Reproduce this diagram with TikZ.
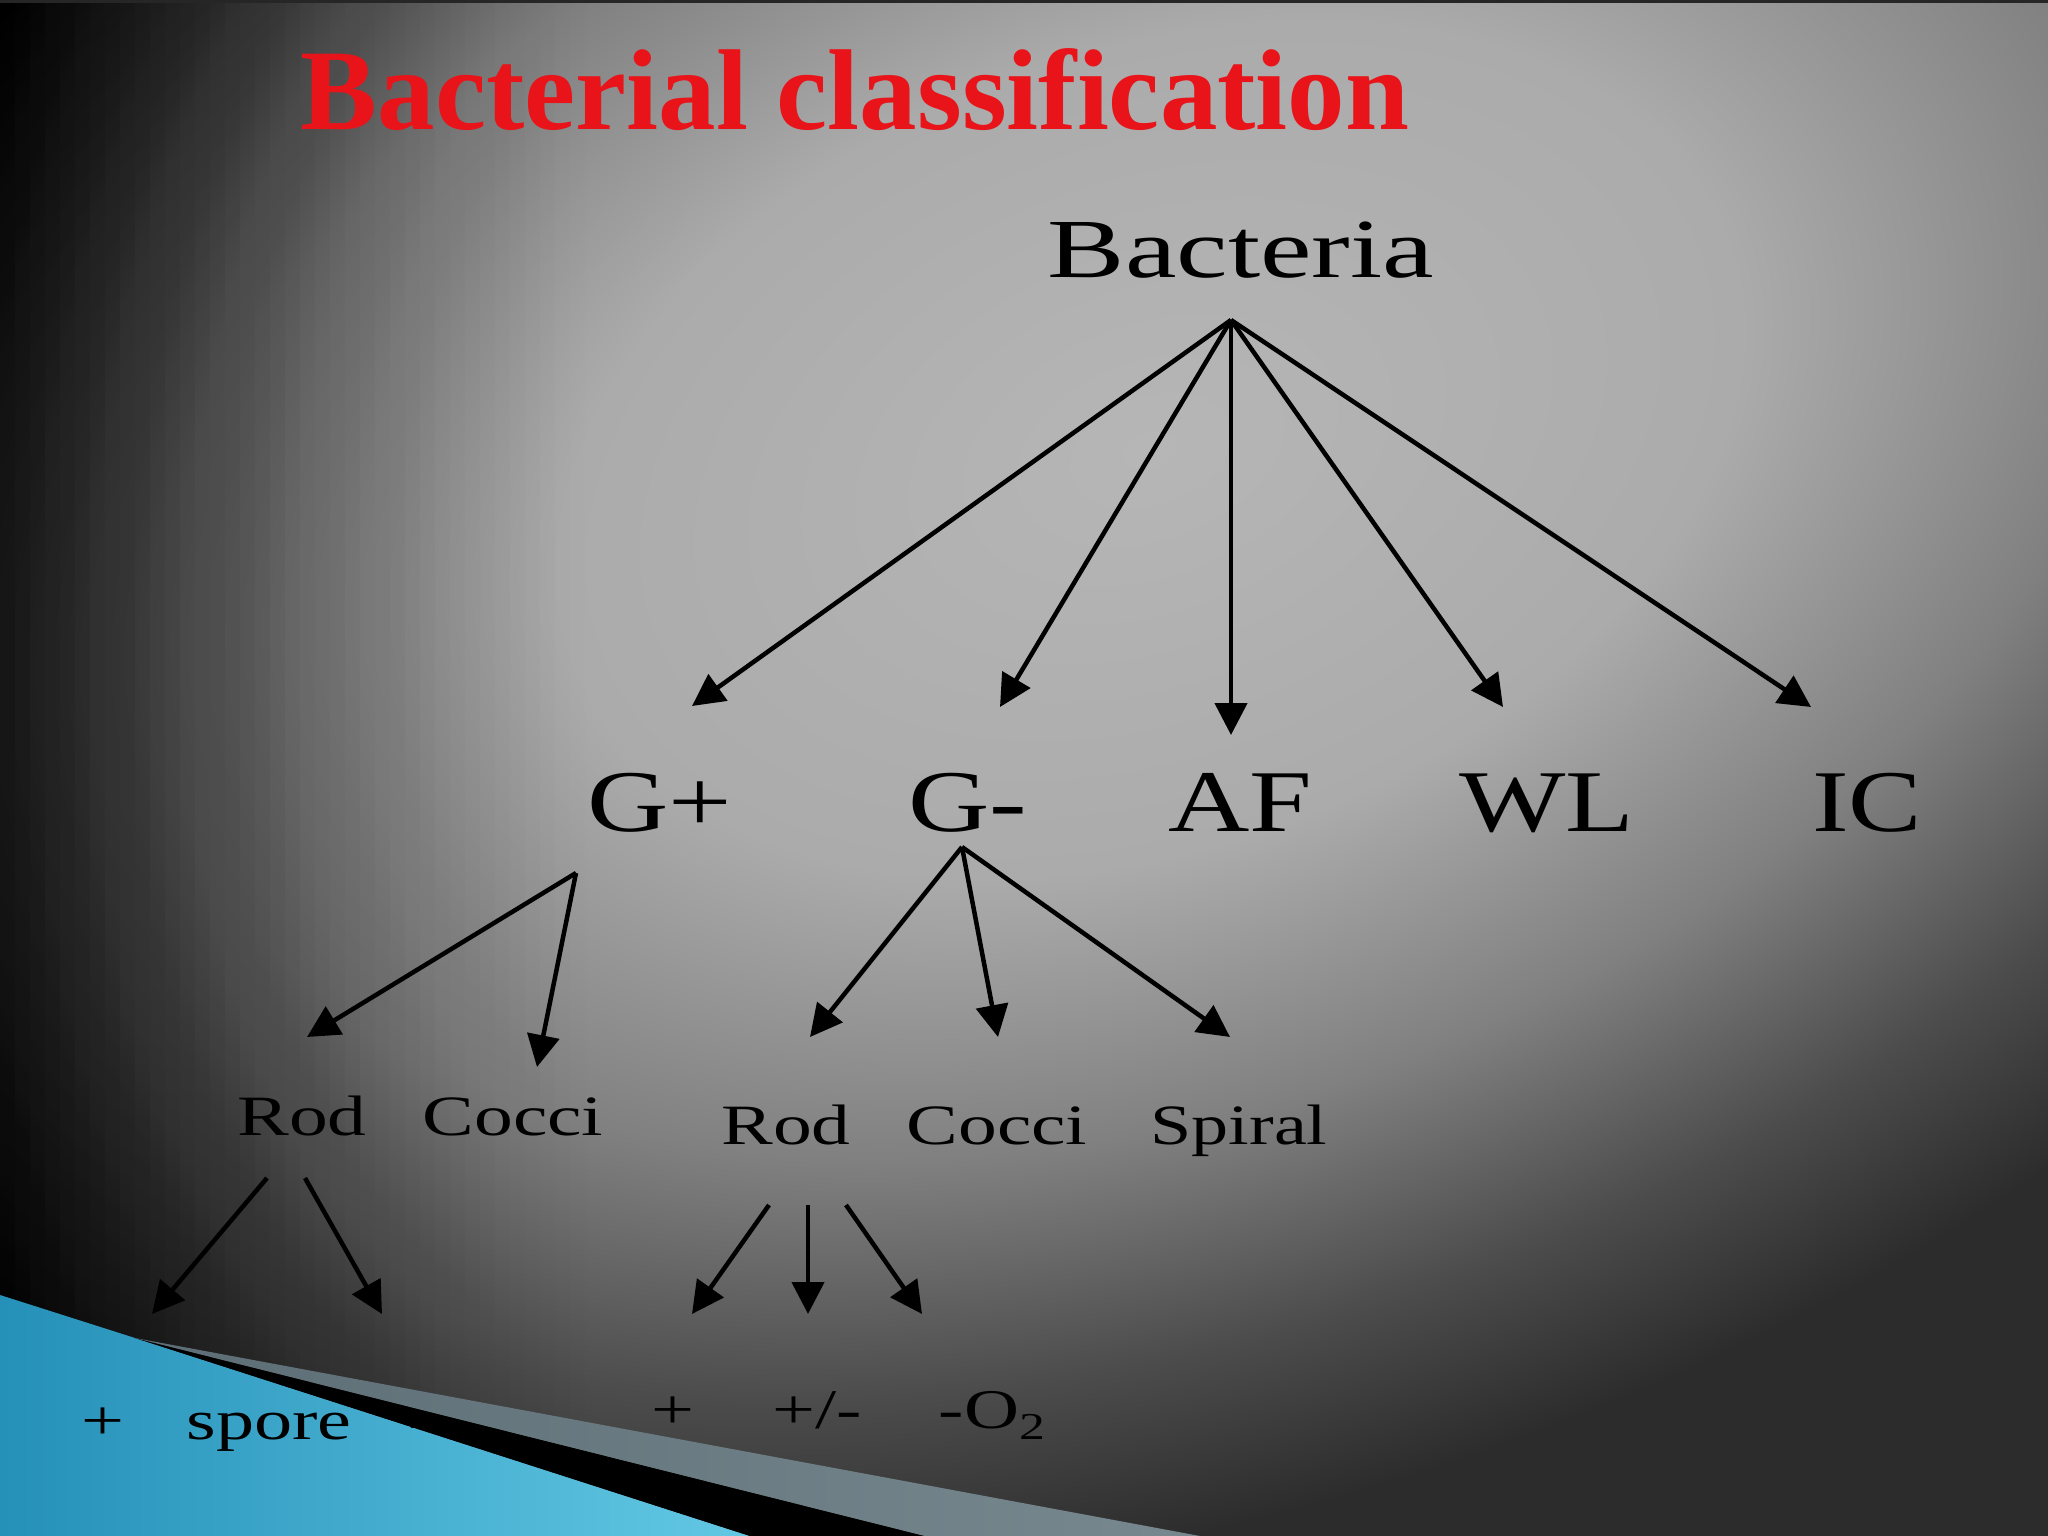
\documentclass[tikz,border=0pt]{standalone}
\usepackage{fontspec}
\setmainfont{Liberation Serif}
\usepackage{graphicx}
\usetikzlibrary{arrows.meta}
\definecolor{bgA}{HTML}{B6B6B6}
\definecolor{bgB}{HTML}{ABABAB}
\definecolor{bgC}{HTML}{808080}
\definecolor{bgD}{HTML}{4C4C4C}
\definecolor{bgE}{HTML}{2C2C2C}
\definecolor{titlered}{HTML}{E8141A}
\definecolor{cyanA}{HTML}{2590B8}
\definecolor{cyanB}{HTML}{62C8E4}
\definecolor{bandA}{HTML}{5D6D75}
\definecolor{bandB}{HTML}{78888F}
\pgfdeclareradialshading{bgshade}{\pgfpoint{0bp}{0bp}}{%
  color(0bp)=(bgA); color(9bp)=(bgB); color(15bp)=(bgC); color(20bp)=(bgD); color(24bp)=(bgE); color(50bp)=(bgE)}
\newcommand{\sx}[2][1.36]{\scalebox{#1}[1]{#2}}
\tikzset{
  lab/.style={inner sep=0pt, outer sep=0pt, anchor=base, text=black},
  titlefont/.style={font=\fontsize{115}{115}\selectfont\bfseries},
  bigfont/.style={font=\fontsize{88}{88}\selectfont},
  midfont/.style={font=\fontsize{57}{57}\selectfont},
  smallfont/.style={font=\fontsize{56}{56}\selectfont},
  arr/.style={line width=4.5pt, draw=black, -{Triangle[length=32pt,width=32pt]}},
}
\begin{document}
\begin{tikzpicture}[x=1pt,y=-1pt]
\useasboundingbox (0,0) rectangle (2048,1536);
% background
\begin{scope}
  \clip (0,0) rectangle (2048,1536);
  \fill[bgE] (0,0) rectangle (2048,1536);
  \begin{scope}[transform canvas={rotate around={20:(1150,450)}}]
    \shade[shading=bgshade] (1150,450) ellipse (1700 and 1100);
  \end{scope}
  % darkening towards the left edge (nested translucent layers)
  \foreach \k in {1,...,40}{
    \pgfmathsetmacro{\tk}{1-0.64*pow(max(0.0001,1-(15*\k-7.5)/600),1.5)}
    \pgfmathsetmacro{\tn}{1-0.64*pow(max(0.0001,1-(15*\k+7.5)/600),1.5)}
    \pgfmathsetmacro{\op}{max(0,1-\tk/\tn)}
    \fill[black, opacity=\op] (0,0) rectangle (15*\k,1536);
  }
  \fill[black!85] (0,0) rectangle (2048,3);
  % bottom-left decoration
  \shade[left color=cyanA, right color=cyanB] (0,1295) -- (135,1338) -- (750,1536) -- (0,1536) -- cycle;
  \fill[black] (135,1338) -- (925,1536) -- (750,1536) -- cycle;
  \shade[left color=bandA, right color=bandB] (135,1338) -- (1200,1536) -- (925,1536) -- cycle;
\end{scope}

% title
\node[lab, titlefont, text=titlered] (title) at (855,130) {Bacterial classification};

% nodes
\node[lab, font=\fontsize{84}{84}\selectfont] (bac) at (1241,277) {\sx[1.38]{Bacteria}};

\node[lab, bigfont] (gp) at (660,831) {\sx[1.28]{G+}};
\node[lab, bigfont] (gm) at (968,831) {\sx[1.28]{G-}};
\node[lab, bigfont] (af) at (1240,831) {\sx[1.28]{AF}};
\node[lab, bigfont] (wl) at (1547,831) {\sx[1.28]{WL}};
\node[lab, bigfont] (ic) at (1867,831) {\sx[1.25]{IC}};

\node[lab, midfont] (rod1) at (302,1135) {\sx{Rod}};
\node[lab, midfont] (cocci1) at (513,1135) {\sx{Cocci}};
\node[lab, midfont] (rod2) at (786,1144) {\sx{Rod}};
\node[lab, midfont] (cocci2) at (997,1144) {\sx{Cocci}};
\node[lab, midfont] (spiral) at (1239,1144) {\sx[1.3]{Spiral}};

\node[lab, smallfont] (plus1) at (103,1439) {\sx{+}};
\node[lab, smallfont] (spore) at (269,1439) {\sx{spore}};
\node[lab, smallfont] (minus1) at (421,1439) {\sx{-}};
\node[lab, smallfont] (plus2) at (673,1428) {\sx{+}};
\node[lab, smallfont] (pm) at (817,1428) {\sx{+/-}};
\node[lab, smallfont] (otwo) at (992,1428) {\sx{-O\raisebox{-0.2em}{\fontsize{38}{38}\selectfont 2}}};

% connector end points
\coordinate (bacfoot) at (1231,320);
\coordinate (tgp) at (692,706);
\coordinate (tgm) at (1000,707);
\coordinate (taf) at (1231,735);
\coordinate (twl) at (1503,707);
\coordinate (tic) at (1811,707);

\coordinate (gpfoot) at (576,873);
\coordinate (trod1) at (307,1037);
\coordinate (tcocci1) at (537,1067);

\coordinate (gmfoot) at (962,847);
\coordinate (trod2) at (810,1037);
\coordinate (tcocci2) at (998,1037);
\coordinate (tspiral) at (1230,1037);

\coordinate (rod1a) at (267,1178);
\coordinate (rod1b) at (305,1178);
\coordinate (tplus1) at (152,1314);
\coordinate (tspore) at (382,1314);

\coordinate (rod2a) at (769,1205);
\coordinate (rod2b) at (808,1205);
\coordinate (rod2c) at (846,1205);
\coordinate (tplus2) at (692,1314);
\coordinate (tpm) at (808,1314);
\coordinate (totwo) at (922,1314);

% connectors
\draw[arr] (bacfoot) -- (tgp);
\draw[arr] (bacfoot) -- (tgm);
\draw[arr] (bacfoot) -- (taf);
\draw[arr] (bacfoot) -- (twl);
\draw[arr] (bacfoot) -- (tic);

\draw[arr] (gpfoot) -- (trod1);
\draw[arr] (gpfoot) -- (tcocci1);

\draw[arr] (gmfoot) -- (trod2);
\draw[arr] (gmfoot) -- (tcocci2);
\draw[arr] (gmfoot) -- (tspiral);

\draw[arr] (rod1a) -- (tplus1);
\draw[arr] (rod1b) -- (tspore);

\draw[arr] (rod2a) -- (tplus2);
\draw[arr] (rod2b) -- (tpm);
\draw[arr] (rod2c) -- (totwo);
\end{tikzpicture}
\end{document}
